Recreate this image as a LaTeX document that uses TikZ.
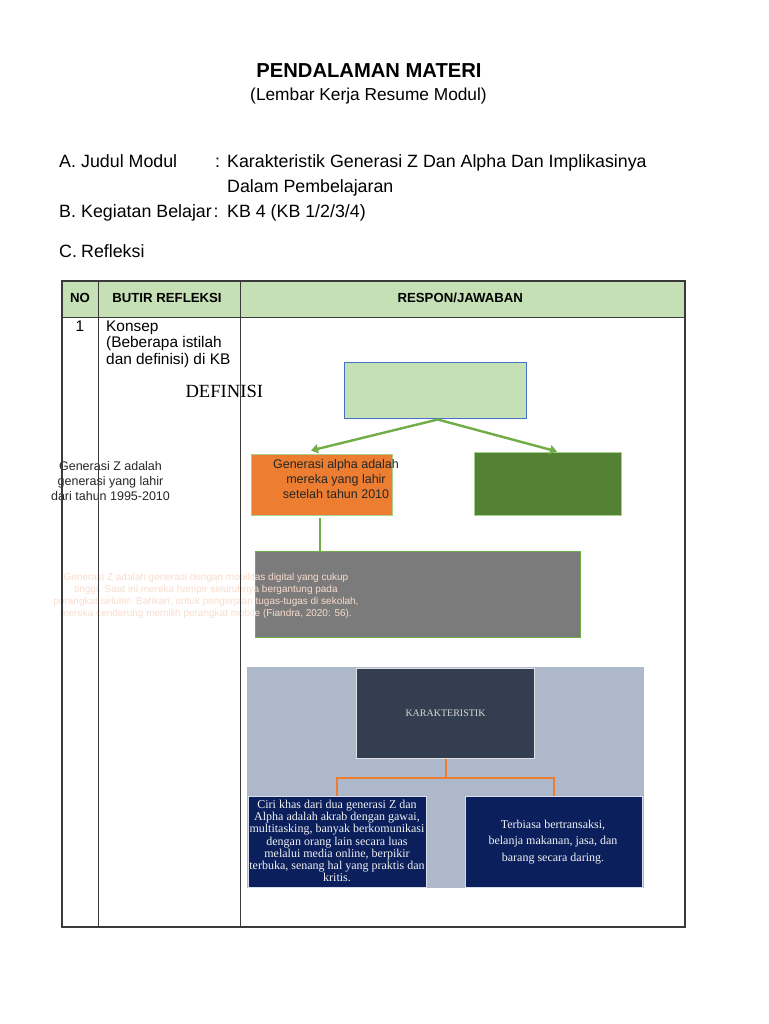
\documentclass[tikz,border=0pt]{standalone}
\usepackage{fontspec}
\setmainfont{Liberation Sans}
\newfontfamily\serifx{Liberation Serif}
\usetikzlibrary{arrows.meta}
\newcommand{\fsz}[2]{\fontsize{#1}{#2}\selectfont}
\definecolor{hdrgreen}{HTML}{C5E0B4}
\definecolor{arrgreen}{HTML}{70AD47}
\definecolor{bordblue}{HTML}{4472C4}
\definecolor{orng}{HTML}{ED7D31}
\definecolor{dkgreen}{HTML}{548235}
\definecolor{ltgreen}{HTML}{A9D18E}
\definecolor{midgray}{HTML}{7B7B7B}
\definecolor{bgblue}{HTML}{ADB9CA}
\definecolor{slate}{HTML}{333F50}
\definecolor{navy}{HTML}{0A1F5C}
\definecolor{peach}{HTML}{F9DCCD}
\definecolor{tline}{HTML}{3A3A3A}
\definecolor{dtext}{HTML}{262626}
\begin{document}
\begin{tikzpicture}[x=1pt,y=-1pt,
  body/.style={font=\fsz{17.8}{21}, inner sep=0pt, anchor=base west},
  hdr/.style={font=\fsz{13.2}{15}\bfseries, inner sep=0pt},
  cell/.style={font=\fsz{15.4}{16.5}, inner sep=0pt, anchor=base west},
  blk/.style={inner sep=0pt, line width=0.9pt},
  smalltxt/.style={font=\fsz{12.5}{15}, inner sep=0pt, align=center, text=dtext},
  navytxt/.style={font=\serifx\fsz{12}{12.2}, align=center, text=white!95!black},
  greenarrow/.style={draw=arrgreen, line width=2.4pt, -{Triangle[length=7pt,width=9pt]}},
  orangeline/.style={draw=orng, line width=2pt},
  tablerule/.style={draw=tline, line width=1.2pt}
]
\useasboundingbox (0,0) rectangle (768,1024);

% ---- heading ----
\node[inner sep=0pt, font=\fsz{20.2}{24}\bfseries] (title) at (369,71) {PENDALAMAN MATERI};
\node[inner sep=0pt, font=\fsz{17.3}{21}] (subtitle) at (368.5,96) {(Lembar Kerja Resume Modul)};

\node[body] (la) at (59,167.5) {A.};
\node[body] (lajudul) at (81,167.5) {Judul Modul};
\node[body] (lacolon) at (215,167.5) {:};
\node[body] (latext) at (227,167.5) {Karakteristik Generasi Z Dan Alpha Dan Implikasinya};
\node[body] (latext2) at (227,192.5) {Dalam Pembelajaran};
\node[body] (lb) at (59,218) {B.};
\node[body] (lbkeg) at (81,218) {Kegiatan Belajar};
\node[body] (lbcolon) at (213.5,218) {:};
\node[body] (lbtext) at (227,218) {KB 4 (KB 1/2/3/4)};
\node[body] (lc) at (59,257.5) {C.};
\node[body] (lcref) at (81,257.5) {Refleksi};

% ---- table header fill ----
\fill[hdrgreen] (62,281) rectangle (685,317.5);
\node[hdr] (hno) at (80,298) {NO};
\node[hdr] (hbutir) at (167,298) {BUTIR REFLEKSI};
\node[hdr] (hrespon) at (460.3,298) {RESPON/JAWABAN};

% ---- row 1 ----
\node[cell, anchor=base] (rno) at (80,331) {1};
\node[cell, align=left, anchor=north west] (rbutir) at (106,320.3) {Konsep\\(Beberapa istilah\\dan definisi) di KB};

\node[inner sep=0pt, font=\serifx\fsz{18.6}{22}] (definisi) at (224.3,391) {DEFINISI};

% ---- upper diagram ----
\node[blk, fill=hdrgreen, draw=bordblue, minimum width=182pt, minimum height=56pt] (topbox) at (435.7,390.3) {};
\node[blk, fill=orng, draw=ltgreen, minimum width=141.3pt, minimum height=61.4pt] (alphabox) at (321.7,485) {};
\node[blk, fill=dkgreen, draw=ltgreen, minimum width=146.7pt, minimum height=63.4pt] (greenbox) at (547.7,484) {};
\node[blk, fill=midgray, draw=arrgreen, minimum width=324.7pt, minimum height=86.3pt] (graybox) at (417.7,594.2) {};

\coordinate (tipl) at (311,450.5);
\coordinate (tipr) at (557,451.5);
\coordinate (topfoot) at (437.7,419.5);
\draw[greenarrow] (topfoot) -- (tipl);
\draw[greenarrow] (topfoot) -- (tipr);
\coordinate (vlinetop) at (319.7,518);
\draw[draw=arrgreen, line width=2.4pt] (vlinetop) -- (vlinetop |- graybox.north);

\node[smalltxt] (genz) at (110.5,481) {Generasi Z adalah\\generasi yang lahir\\dari tahun 1995-2010};
\node[smalltxt] (genalpha) at (336,479.3) {Generasi alpha adalah\\mereka yang lahir\\setelah tahun 2010};
\node[inner sep=0pt, align=center, font=\fsz{10}{12}, text=peach] (graytext) at (206,595.5) {Generasi Z adalah generasi dengan mobilitas digital yang cukup\\tinggi. Saat ini mereka hampir seluruhnya bergantung pada\\perangkat seluler. Bahkan, untuk pengerjaan tugas-tugas di sekolah,\\mereka cenderung memilih perangkat mobile (Fiandra, 2020: 56).};

% ---- lower diagram ----
\node[inner sep=0pt, fill=bgblue, minimum width=397.6pt, minimum height=221.3pt] (bgpanel) at (445.5,777.7) {};
\node[blk, fill=slate, draw=white!85!slate, minimum width=177.6pt, minimum height=90.4pt, font=\serifx\fsz{10}{12}, text=white!85!black] (kar) at (445.5,713.5) {KARAKTERISTIK};
\node[blk, fill=navy, draw=white!85!navy, minimum width=177.7pt, minimum height=91.7pt] (leftbox) at (337.2,841.9) {};
\node[blk, fill=navy, draw=white!85!navy, minimum width=177.3pt, minimum height=91.7pt] (rightbox) at (553.7,841.9) {};
\draw[orangeline] (kar.south) -- ++(0,18.6) coordinate (fork) -| (leftbox.north);
\draw[orangeline] (fork) -| (rightbox.north);

\node[navytxt, inner sep=0pt] (lefttext) at (337,841) {Ciri khas dari dua generasi Z dan\\Alpha adalah akrab dengan gawai,\\multitasking, banyak berkomunikasi\\dengan orang lain secara luas\\melalui media online, berpikir\\terbuka, senang hal yang praktis dan\\kritis.};
\node[navytxt, inner sep=0pt, font=\serifx\fsz{12}{16.3}] (righttext) at (553,842) {Terbiasa bertransaksi,\\belanja makanan, jasa, dan\\barang secara daring.};

% ---- table rules ----
\draw[tablerule] (62,281) rectangle (685,927);
\draw[tablerule] (62,317.5) -- (685,317.5);
\draw[tablerule] (98.5,281) -- (98.5,927);
\draw[tablerule] (240.5,281) -- (240.5,927);
\end{tikzpicture}
\end{document}
